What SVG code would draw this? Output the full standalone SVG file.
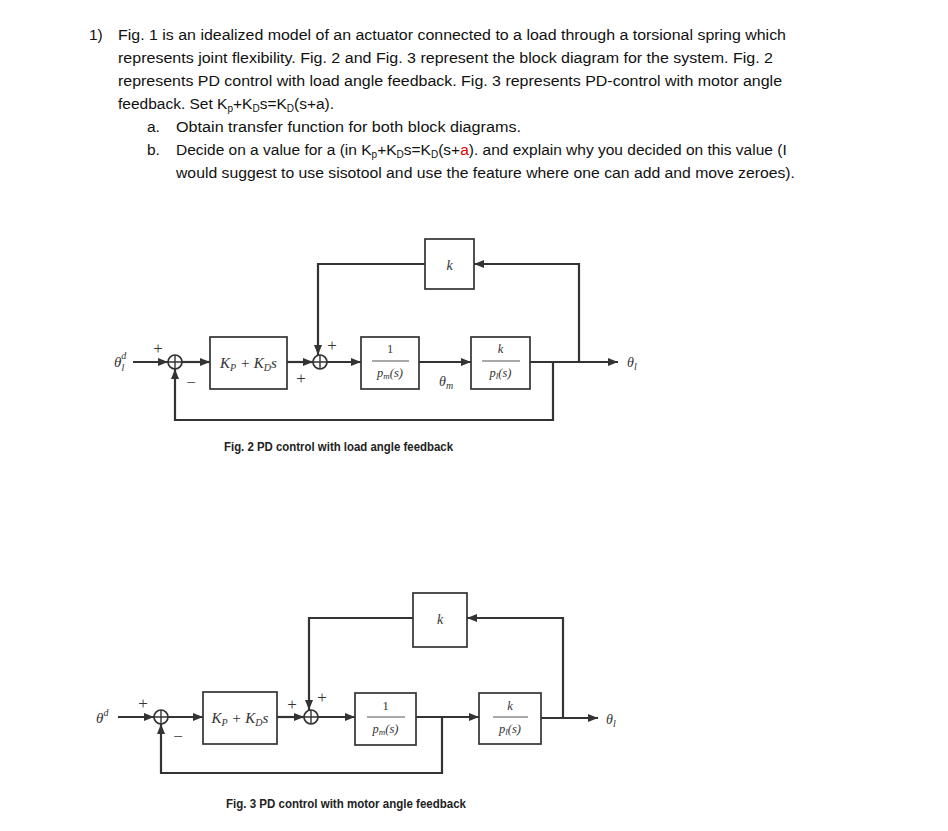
<svg xmlns="http://www.w3.org/2000/svg" width="948" height="831" viewBox="0 0 948 831">
<style>
.t{font-family:"Liberation Sans",Arial,sans-serif;font-size:15.5px;fill:#111}
.cap{font-family:"Liberation Sans",Arial,sans-serif;font-size:12.5px;font-weight:bold;fill:#222}
.m{font-family:"Liberation Serif","Times New Roman",serif;font-style:italic;fill:#333}
.r{font-family:"Liberation Serif","Times New Roman",serif;fill:#333}
.pm{font-family:"Liberation Serif","Times New Roman",serif;font-size:17px;fill:#333;text-anchor:middle}
.box{fill:#fff;stroke:#333;stroke-width:1.7}
.ln{fill:none;stroke:#333;stroke-width:2}
.ar{fill:none;stroke:#333;stroke-width:2.2;marker-end:url(#ah)}
.sj{fill:#fff;stroke:#333;stroke-width:1.7}
.frac{stroke:#555;stroke-width:1}
</style>
<defs>
<marker id="ah" markerUnits="userSpaceOnUse" markerWidth="11" markerHeight="8" refX="10" refY="4" orient="auto">
<path d="M0,0 L10,4 L0,8 Z" fill="#333"/>
</marker>
</defs>

<g id="question">
<text class="t" x="89" y="40">1)</text>
<text class="t" x="118" y="40" textLength="668" lengthAdjust="spacingAndGlyphs">Fig. 1 is an idealized model of an actuator connected to a load through a torsional spring which</text>
<text class="t" x="118" y="63" textLength="655" lengthAdjust="spacingAndGlyphs">represents joint flexibility. Fig. 2 and Fig. 3 represent the block diagram for the system. Fig. 2</text>
<text class="t" x="118" y="86" textLength="664" lengthAdjust="spacingAndGlyphs">represents PD control with load angle feedback. Fig. 3 represents PD-control with motor angle</text>
<text class="t" x="118" y="109" font-size="15">feedback. Set K<tspan font-size="10" dy="3">p</tspan><tspan dy="-3">+K</tspan><tspan font-size="10" dy="3">D</tspan><tspan dy="-3">s=K</tspan><tspan font-size="10" dy="3">D</tspan><tspan dy="-3">(s+a).</tspan></text>
<text class="t" x="147" y="132">a.</text>
<text class="t" x="176" y="132" textLength="345" lengthAdjust="spacingAndGlyphs">Obtain transfer function for both block diagrams.</text>
<text class="t" x="147" y="155">b.</text>
<text class="t" x="176" y="155" font-size="15">Decide on a value for a (in K<tspan font-size="10" dy="3">p</tspan><tspan dy="-3">+K</tspan><tspan font-size="10" dy="3">D</tspan><tspan dy="-3">s=K</tspan><tspan font-size="10" dy="3">D</tspan><tspan dy="-3">(s+</tspan><tspan fill="#e00000">a</tspan><tspan>).  and explain why you decided on this value (I</tspan></text>
<text class="t" x="176" y="178" textLength="619" lengthAdjust="spacingAndGlyphs">would suggest to use sisotool and use the feature where one can add and move zeroes).</text>
</g>

<!-- Figure 2 -->
<g id="fig2-connectors">
<path class="ar" d="M133,362 H168"/>
<path class="ar" d="M182,362 H210"/>
<path class="ar" d="M287,362 H313"/>
<path class="ar" d="M327,362 H361"/>
<path class="ar" d="M419,362 H471"/>
<path class="ar" d="M530,362 H618"/>
<path class="ar" d="M579,362 V264 H474"/>
<path class="ar" d="M425,264 H318 V355"/>
<path class="ar" d="M553,362 V420 H175 V369"/>
</g>
<g id="fig2-sum1">
<circle class="sj" cx="175" cy="362" r="7"/>
<path class="ln" style="stroke-width:1.4" d="M168,362 H182 M175,355 V369"/>
</g>
<g id="fig2-sum2">
<circle class="sj" cx="320" cy="362" r="7"/>
<path class="ln" style="stroke-width:1.4" d="M313,362 H327 M320,355 V369"/>
</g>
<g id="fig2-pd">
<rect class="box" x="210" y="337" width="77" height="52"/>
<text class="m" x="248.5" y="368" font-size="15" text-anchor="middle">K<tspan font-size="10" dy="3">P</tspan><tspan dy="-3" class="r"> + </tspan>K<tspan font-size="10" dy="3">D</tspan><tspan dy="-3">s</tspan></text>
</g>
<g id="fig2-pm">
<rect class="box" x="361" y="337" width="58" height="52"/>
<text class="r" x="390" y="353" font-size="12.5" text-anchor="middle">1</text>
<line class="frac" x1="372" y1="361" x2="409" y2="361"/>
<text class="m" x="390" y="377" font-size="12.5" text-anchor="middle">p<tspan font-size="9" dy="2">m</tspan><tspan dy="-2" class="r">(s)</tspan></text>
</g>
<g id="fig2-pl">
<rect class="box" x="471" y="337" width="59" height="52"/>
<text class="m" x="500.5" y="353" font-size="12.5" text-anchor="middle">k</text>
<line class="frac" x1="482" y1="361" x2="520" y2="361"/>
<text class="m" x="500.5" y="377" font-size="12.5" text-anchor="middle">p<tspan font-size="9" dy="2">l</tspan><tspan dy="-2" class="r">(s)</tspan></text>
</g>
<g id="fig2-k">
<rect class="box" x="425" y="239" width="49" height="50"/>
<text class="m" x="449.5" y="270" font-size="14" text-anchor="middle">k</text>
</g>
<g id="fig2-labels">
<text class="m" x="114" y="367" font-size="15">θ<tspan font-size="10" dy="4">l</tspan><tspan font-size="10" dx="-3" dy="-12">d</tspan></text>
<text class="pm" x="158" y="354">+</text>
<text class="pm" x="191" y="388">−</text>
<text class="pm" x="301" y="384">+</text>
<text class="pm" x="332" y="351">+</text>
<text class="m" x="439" y="386" font-size="14">θ<tspan font-size="10" dy="3">m</tspan></text>
<text class="m" x="627" y="367" font-size="14">θ<tspan font-size="10" dy="3">l</tspan></text>
<text class="cap" x="224" y="451" textLength="229" lengthAdjust="spacingAndGlyphs">Fig. 2 PD control with load angle feedback</text>
</g>

<!-- Figure 3 -->
<g id="fig3-connectors">
<path class="ar" d="M118,717 H154"/>
<path class="ar" d="M168,717 H203"/>
<path class="ar" d="M277,717 H304"/>
<path class="ar" d="M318,717 H355"/>
<path class="ar" d="M416,717 H479"/>
<path class="ar" d="M541,718 H598"/>
<path class="ar" d="M563,718 V618 H467"/>
<path class="ar" d="M413,618 H309 V710"/>
<path class="ar" d="M442,717 V773 H161 V724"/>
</g>
<g id="fig3-sum1">
<circle class="sj" cx="161" cy="717" r="7"/>
<path class="ln" style="stroke-width:1.4" d="M154,717 H168 M161,710 V724"/>
</g>
<g id="fig3-sum2">
<circle class="sj" cx="311" cy="717" r="7"/>
<path class="ln" style="stroke-width:1.4" d="M304,717 H318 M311,710 V724"/>
</g>
<g id="fig3-pd">
<rect class="box" x="203" y="692" width="74" height="52"/>
<text class="m" x="240" y="723" font-size="15" text-anchor="middle">K<tspan font-size="10" dy="3">P</tspan><tspan dy="-3" class="r"> + </tspan>K<tspan font-size="10" dy="3">D</tspan><tspan dy="-3">s</tspan></text>
</g>
<g id="fig3-pm">
<rect class="box" x="355" y="693" width="61" height="52"/>
<text class="r" x="385.5" y="710" font-size="12.5" text-anchor="middle">1</text>
<line class="frac" x1="367" y1="717" x2="405" y2="717"/>
<text class="m" x="385.5" y="733" font-size="12.5" text-anchor="middle">p<tspan font-size="9" dy="2">m</tspan><tspan dy="-2" class="r">(s)</tspan></text>
</g>
<g id="fig3-pl">
<rect class="box" x="479" y="693" width="62" height="51"/>
<text class="m" x="510" y="710" font-size="12.5" text-anchor="middle">k</text>
<line class="frac" x1="493" y1="717" x2="528" y2="717"/>
<text class="m" x="510" y="733" font-size="12.5" text-anchor="middle">p<tspan font-size="9" dy="2">l</tspan><tspan dy="-2" class="r">(s)</tspan></text>
</g>
<g id="fig3-k">
<rect class="box" x="413" y="593" width="54" height="54"/>
<text class="m" x="440" y="624" font-size="14" text-anchor="middle">k</text>
</g>
<g id="fig3-labels">
<text class="m" x="96" y="723" font-size="15">θ<tspan font-size="10" dy="-7">d</tspan></text>
<text class="pm" x="143" y="709">+</text>
<text class="pm" x="178" y="742">−</text>
<text class="pm" x="292" y="710">+</text>
<text class="pm" x="322" y="703">+</text>
<text class="m" x="606" y="724" font-size="14">θ<tspan font-size="10" dy="3">l</tspan></text>
<text class="cap" x="226" y="808" textLength="240" lengthAdjust="spacingAndGlyphs">Fig. 3 PD control with motor angle feedback</text>
</g>
</svg>
